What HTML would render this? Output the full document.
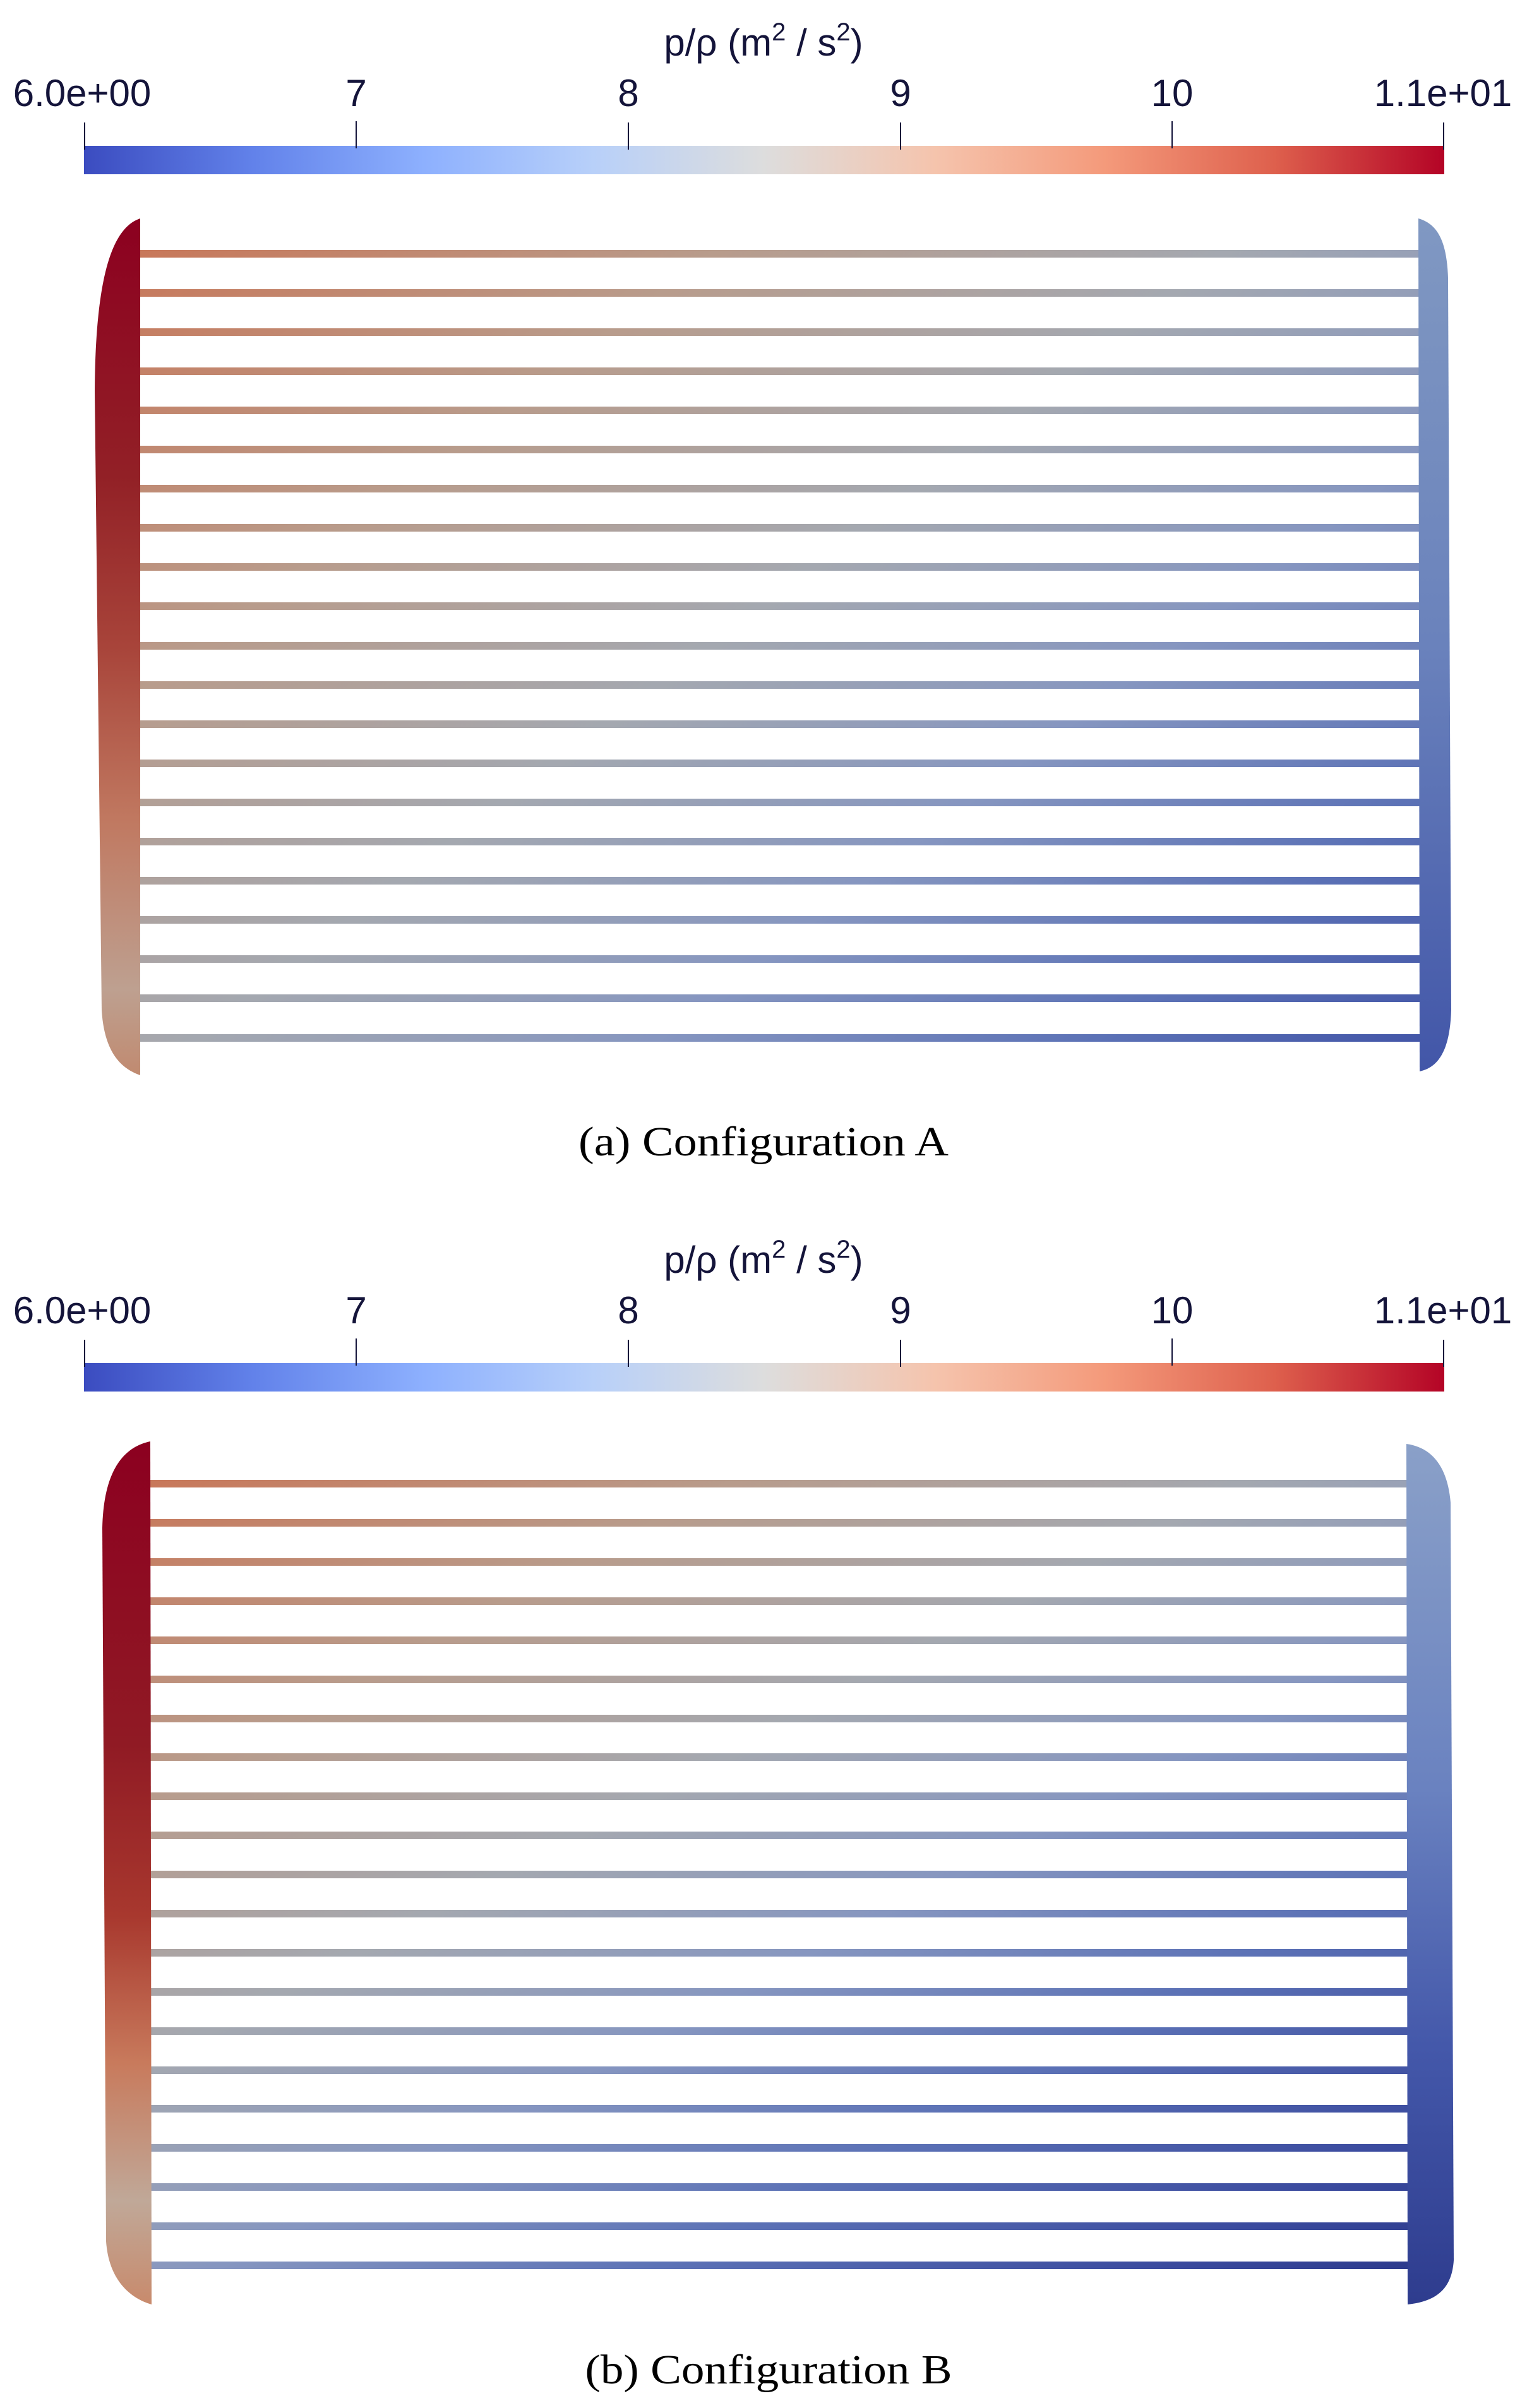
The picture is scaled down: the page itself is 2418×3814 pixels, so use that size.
<!DOCTYPE html>
<html><head><meta charset="utf-8"><style>
html,body{margin:0;padding:0;background:#fff}
svg{display:block}
.t{font-family:"Liberation Sans",sans-serif;fill:#14143a}
.c{font-family:"Liberation Serif",serif;fill:#000}
</style></head><body>
<svg width="2418" height="3814" viewBox="0 0 2418 3814" xmlns="http://www.w3.org/2000/svg">
<defs>
<linearGradient id="cw" x1="0" y1="0" x2="1" y2="0">
<stop offset="0" stop-color="#3b4cc0"/><stop offset="0.125" stop-color="#6282ea"/>
<stop offset="0.25" stop-color="#8db0fe"/><stop offset="0.375" stop-color="#b8d0f9"/>
<stop offset="0.5" stop-color="#dddddd"/><stop offset="0.625" stop-color="#f5c4ad"/>
<stop offset="0.75" stop-color="#f49a7b"/><stop offset="0.875" stop-color="#de604d"/>
<stop offset="1" stop-color="#b40426"/>
</linearGradient>
<linearGradient id="pa" gradientUnits="userSpaceOnUse" x1="222" y1="402" x2="1569" y2="2162">
<stop offset="0" stop-color="#c8785a"/><stop offset="0.25" stop-color="#b89c8c"/>
<stop offset="0.47" stop-color="#a4a8b0"/><stop offset="0.67" stop-color="#8696c0"/>
<stop offset="0.86" stop-color="#5c72b6"/><stop offset="1" stop-color="#4457a8"/>
</linearGradient>
<linearGradient id="pb" gradientUnits="userSpaceOnUse" x1="242" y1="2350" x2="1201" y2="4155">
<stop offset="0" stop-color="#c8785a"/><stop offset="0.21" stop-color="#b89c8c"/>
<stop offset="0.395" stop-color="#a4a8b0"/><stop offset="0.56" stop-color="#8696c0"/>
<stop offset="0.72" stop-color="#5c72b6"/><stop offset="0.907" stop-color="#3a4a9e"/>
<stop offset="1" stop-color="#2c3a8c"/>
</linearGradient>
<linearGradient id="la" x1="0" y1="0" x2="0" y2="1">
<stop offset="0" stop-color="#8c0020"/><stop offset="0.3" stop-color="#922026"/>
<stop offset="0.5" stop-color="#a8443a"/><stop offset="0.7" stop-color="#c07860"/>
<stop offset="0.9" stop-color="#bea090"/><stop offset="1" stop-color="#c08a70"/>
</linearGradient>
<linearGradient id="ra" x1="0" y1="0" x2="0" y2="1">
<stop offset="0" stop-color="#8098c2"/><stop offset="0.5" stop-color="#6a82bc"/>
<stop offset="1" stop-color="#4256a8"/>
</linearGradient>
<linearGradient id="lb" x1="0" y1="0" x2="0" y2="1">
<stop offset="0" stop-color="#8c0020"/><stop offset="0.35" stop-color="#901a24"/>
<stop offset="0.55" stop-color="#a8382e"/><stop offset="0.72" stop-color="#c87a5c"/>
<stop offset="0.88" stop-color="#c0a898"/><stop offset="1" stop-color="#c88a6c"/>
</linearGradient>
<linearGradient id="rb" x1="0" y1="0" x2="0" y2="1">
<stop offset="0" stop-color="#8aa0c8"/><stop offset="0.4" stop-color="#6a82c0"/>
<stop offset="0.7" stop-color="#4458aa"/><stop offset="1" stop-color="#2e3c8e"/>
</linearGradient>
<g id="cbar">
<text class="t" x="1209" y="88" font-size="60" text-anchor="middle">p/ρ (m<tspan font-size="40" dy="-24">2</tspan><tspan dy="24"> / s</tspan><tspan font-size="40" dy="-24">2</tspan><tspan dy="24">)</tspan></text>
<g font-size="60" text-anchor="middle" class="t">
<text x="130" y="168">6.0e+00</text><text x="564" y="168">7</text><text x="995" y="168">8</text>
<text x="1426" y="168">9</text><text x="1856" y="168">10</text><text x="2285" y="168">1.1e+01</text>
</g>
<rect x="133" y="231" width="2154" height="45" fill="url(#cw)"/>
<g stroke="#14143a" stroke-width="2">
<line x1="134" y1="194" x2="134" y2="237"/><line x1="564" y1="192" x2="564" y2="235"/>
<line x1="995" y1="194" x2="995" y2="237"/><line x1="1426" y1="194" x2="1426" y2="237"/>
<line x1="1856" y1="192" x2="1856" y2="235"/><line x1="2286" y1="194" x2="2286" y2="237"/>
</g>
</g>
</defs>

<use href="#cbar"/>
<!-- Panel A -->
<g fill="url(#pa)">
<rect x="215" y="396" width="2040" height="12"/><rect x="215" y="458" width="2040" height="12"/>
<rect x="215" y="520" width="2040" height="12"/><rect x="215" y="582" width="2040" height="12"/>
<rect x="215" y="644" width="2040" height="12"/><rect x="215" y="706" width="2040" height="12"/>
<rect x="215" y="768" width="2040" height="12"/><rect x="215" y="830" width="2040" height="12"/>
<rect x="215" y="892" width="2040" height="12"/><rect x="215" y="954" width="2040" height="12"/>
<rect x="215" y="1017" width="2040" height="12"/><rect x="215" y="1079" width="2040" height="12"/>
<rect x="215" y="1141" width="2040" height="12"/><rect x="215" y="1203" width="2040" height="12"/>
<rect x="215" y="1265" width="2040" height="12"/><rect x="215" y="1327" width="2040" height="12"/>
<rect x="215" y="1389" width="2040" height="12"/><rect x="215" y="1451" width="2040" height="12"/>
<rect x="215" y="1513" width="2040" height="12"/><rect x="215" y="1575" width="2040" height="12"/>
<rect x="215" y="1638" width="2040" height="12"/>
</g>
<path d="M222,346 L222,1703 C190,1692 165,1665 161,1600 L150,620 C151,430 180,360 222,346Z" fill="url(#la)"/>
<path d="M2246,346 C2278,355 2291,385 2293,440 L2298,1600 C2296,1660 2280,1690 2248,1697Z" fill="url(#ra)"/>
<text class="c" x="1209" y="1830" font-size="66" text-anchor="middle" textLength="586" lengthAdjust="spacingAndGlyphs">(a)  Configuration A</text>

<!-- Panel B -->
<use href="#cbar" y="1928"/>
<g fill="url(#pb)">
<rect x="232" y="2344" width="2010" height="12"/><rect x="232" y="2406" width="2010" height="12"/>
<rect x="232" y="2468" width="2010" height="12"/><rect x="232" y="2530" width="2010" height="12"/>
<rect x="232" y="2592" width="2010" height="12"/><rect x="232" y="2654" width="2010" height="12"/>
<rect x="232" y="2716" width="2010" height="12"/><rect x="232" y="2777" width="2010" height="12"/>
<rect x="232" y="2839" width="2010" height="12"/><rect x="232" y="2901" width="2010" height="12"/>
<rect x="232" y="2963" width="2010" height="12"/><rect x="232" y="3025" width="2010" height="12"/>
<rect x="232" y="3087" width="2010" height="12"/><rect x="232" y="3149" width="2010" height="12"/>
<rect x="232" y="3211" width="2010" height="12"/><rect x="232" y="3273" width="2010" height="12"/>
<rect x="232" y="3334" width="2010" height="12"/><rect x="232" y="3396" width="2010" height="12"/>
<rect x="232" y="3458" width="2010" height="12"/><rect x="232" y="3520" width="2010" height="12"/>
<rect x="232" y="3582" width="2010" height="12"/>
</g>
<path d="M238,2283 L240,3650 C205,3640 172,3610 168,3550 L162,2420 C164,2330 195,2292 238,2283Z" fill="url(#lb)"/>
<path d="M2227,2287 C2265,2292 2292,2320 2297,2380 L2302,3580 C2299,3625 2275,3645 2229,3650Z" fill="url(#rb)"/>
<text class="c" x="1217" y="3775" font-size="66" text-anchor="middle" textLength="581" lengthAdjust="spacingAndGlyphs">(b)  Configuration B</text>
</svg>
</body></html>
